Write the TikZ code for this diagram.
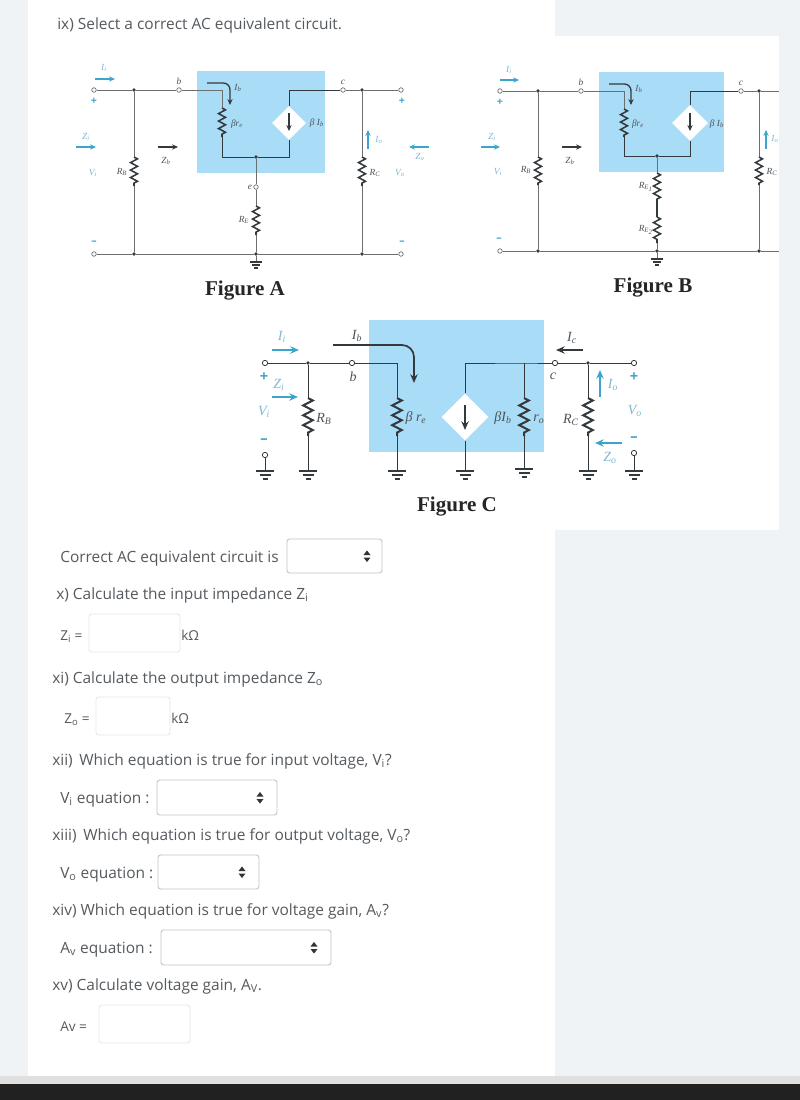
\documentclass[tikz,border=0pt]{standalone}
\usepackage{fontspec}
\setmainfont{Open Sans}
\newfontfamily\serifit[Ligatures=TeX]{Liberation Serif}
\usetikzlibrary{arrows.meta,decorations.pathmorphing,shapes.geometric}
\definecolor{pagebg}{HTML}{EFF3F5}
\definecolor{boxblue}{HTML}{A9DCF6}
\definecolor{wirec}{HTML}{6B6F70}
\definecolor{darkc}{HTML}{33393C}
\definecolor{cyanc}{HTML}{3BA5CC}
\definecolor{lblblue}{HTML}{7FB9D0}
\definecolor{lblgrey}{HTML}{4E5458}
\definecolor{textc}{HTML}{555A5F}
\definecolor{fieldc}{HTML}{E4E7E9}
\newcommand{\sbs}[1]{\textsubscript{#1}}
\tikzset{
 x=0.75pt,y=-0.75pt,
 wire/.style={draw=wirec,line width=0.75pt},
 wireC/.style={draw=darkc,line width=0.7pt},
 res/.style={draw=darkc,line width=1.15pt,decorate,decoration={zigzag,segment length=5.6pt,amplitude=2.6pt}},
 resC/.style={draw=darkc,line width=1.5pt,decorate,decoration={zigzag,segment length=7.4pt,amplitude=3.6pt}},
 term/.style={circle,draw=wirec,fill=white,line width=0.5pt,inner sep=0pt,minimum size=3.4pt},
 termC/.style={circle,draw=darkc,fill=white,line width=0.6pt,inner sep=0pt,minimum size=4pt},
 jn/.style={circle,fill=darkc,inner sep=0pt,minimum size=2.8pt},
 blueb/.style={fill=boxblue,draw=none},
 dia/.style={diamond,fill=white,draw=none,inner sep=0pt,minimum width=#1,minimum height=#1},
 lb/.style={font=\serifit\itshape\fontsize{7pt}{8pt}\selectfont,text=lblgrey,inner sep=0pt},
 lbb/.style={font=\serifit\itshape\fontsize{7pt}{8pt}\selectfont,text=lblblue,inner sep=0pt},
 lc/.style={font=\serifit\itshape\fontsize{10.5pt}{11pt}\selectfont,text=lblgrey,inner sep=0pt},
 lcb/.style={font=\serifit\itshape\fontsize{10.5pt}{11pt}\selectfont,text=lblblue,inner sep=0pt},
 pm/.style={font=\bfseries\fontsize{8pt}{9pt}\selectfont,text=cyanc,inner sep=0pt},
 pmC/.style={font=\bfseries\fontsize{11pt}{12pt}\selectfont,text=cyanc,inner sep=0pt},
 figlabel/.style={font=\serifit\bfseries\fontsize{15.8pt}{17pt}\selectfont,text=black!85,inner sep=0pt},
 txt/.style={font=\fontsize{11.6pt}{13pt}\selectfont,text=textc,anchor=base west,inner sep=0pt},
 smalltxt/.style={font=\fontsize{10.2pt}{12pt}\selectfont,text=textc,anchor=base west,inner sep=0pt},
 field/.style={draw=fieldc,fill=white,line width=0.6pt,rounded corners=2pt},
 selectf/.style={draw=fieldc!85!black,fill=white,line width=0.7pt,rounded corners=2pt},
 tri/.style={fill=black!80,draw=none},
 arrC/.style={draw=cyanc,line width=1.1pt,-{Stealth[length=4.5pt,width=4pt]}},
 arrD/.style={draw=darkc,line width=1pt,-{Stealth[length=4.5pt,width=4pt]}},
 arrCb/.style={draw=cyanc,line width=1.4pt,-{Stealth[length=6.5pt,width=5.5pt]}},
 arrDb/.style={draw=darkc,line width=1.3pt,-{Stealth[length=6.5pt,width=5.5pt]}},
 pics/gnd/.style={code={
   \draw[darkc,line width=0.9pt] (-6,0)--(6,0) (-4,3)--(4,3) (-1.8,6)--(1.8,6);}},
 pics/gndC/.style={code={
   \draw[darkc,line width=1.1pt] (-9,0)--(9,0) (-5.5,4)--(5.5,4) (-2.5,8)--(2.5,8);}},
}
% arrow between two named free ends
\newcommand{\curarw}[4]{\coordinate (#2s) at #3; \coordinate (#2e) at #4; \draw[#1] (#2s) -- (#2e);}
% select control
\newcommand{\selbox}[6]{\node[inner sep=0pt] (#1) at (#2,#3) {}; \draw[selectf] (#2,#3) rectangle (#4,#5);
 \fill[tri] (#6-3.5,{(#3+#5)/2-1}) -- (#6+3.5,{(#3+#5)/2-1}) -- (#6,{(#3+#5)/2-5.5}) -- cycle;
 \fill[tri] (#6-3.5,{(#3+#5)/2+1.5}) -- (#6+3.5,{(#3+#5)/2+1.5}) -- (#6,{(#3+#5)/2+6}) -- cycle;}
\begin{document}
\begin{tikzpicture}
\useasboundingbox (0,0) rectangle (800,1100);
% page
\fill[pagebg] (0,0) rectangle (800,1100);
\fill[white] (28,0) rectangle (555,1076);
\fill[white] (28,36) rectangle (779,530);
\fill[black!12] (0,1076) rectangle (800,1084);
\fill[black!87] (0,1084) rectangle (800,1100);

\node[txt] (q9) at (57,29) {ix) Select a correct AC equivalent circuit.};

%%%%%%%%%% Figure A
\fill[blueb] (197,71) rectangle (325,173);
\node[term] (Alt) at (94,90) {};
\node[jn] (Art) at (134,90) {};
\node[term] (Ab) at (179,90) {};
\coordinate (Aci) at (222,90);
\coordinate (Ari) at (222,108);
\coordinate (Aro) at (222,137);
\coordinate (Abl) at (222,157);
\node[jn] (Amid) at (256,157) {};
\coordinate (Abr) at (289,157);
\node[dia=34*0.75pt] (Asrc) at (289,123) {};
\coordinate (Act) at (289,90);
\node[term] (Ac) at (343,90) {};
\node[jn] (Arct) at (362,90) {};
\node[term] (Art2) at (401,90) {};
\node[term] (Ae) at (256,187) {};
\coordinate (AREa) at (256,206); \coordinate (AREb) at (256,235);
\coordinate (ARBa) at (134,157); \coordinate (ARBb) at (134,186);
\coordinate (ARCa) at (362,157); \coordinate (ARCb) at (362,186);
\node[term] (Alb) at (94,254) {};
\node[jn] (Arb) at (134,254) {};
\node[jn] (Agn) at (256,254) {};
\node[jn] (Arcb) at (362,254) {};
\node[term] (Arb2) at (401,254) {};
\coordinate (Agt) at (256,262);
\draw[wire] (Alt)--(Art)--(Ab)--(Aci)--(Ari);
\draw[wire,draw=darkc] (Aro)--(Abl)--(Amid)--(Abr)--(Asrc.south);
\draw[wire,draw=darkc] (Asrc.north)--(Act)--(Ac);
\draw[wire] (Ac)--(Arct)--(Art2);
\draw[wire] (Amid)--(Ae)--(AREa) (AREb)--(Agn)--(Agt);
\draw[wire] (Art)--(ARBa) (ARBb)--(Arb);
\draw[wire] (Arct)--(ARCa) (ARCb)--(Arcb);
\draw[wire] (Alb)--(Arb)--(Agn)--(Arcb)--(Arb2);
\draw[res] (ARBa)--(ARBb);
\draw[res] (ARCa)--(ARCb);
\draw[res] (AREa)--(AREb);
\draw[res] (Ari)--(Aro);
\pic at (Agt) {gnd};
\curarw{arrD}{Asa}{(289,113)}{(289,131)}
\curarw{arrC}{Aii}{(95,79)}{(115,79)}
\curarw{arrC}{Azi}{(76,147)}{(96,147)}
\curarw{arrD}{Azb}{(158,147)}{(178,147)}
\curarw{arrC}{Aio}{(368,149)}{(368,130)}
\curarw{arrC}{Azo}{(429,147)}{(409,147)}
\coordinate (Aiba) at (207,83); \coordinate (Aibc) at (230,83); \coordinate (Aibb) at (230,105);
\draw[arrD,rounded corners=5pt] (Aiba)--(Aibc)--(Aibb);
\node[lbb] (AIi) at (104,68) {I\sbs{i}};
\node[lbb] (AZi) at (86,137) {Z\sbs{i}};
\node[lbb] (AVi) at (93,173) {V\sbs{i}};
\node[pm] (App1) at (94,101) {+};
\node[pm] (Amm1) at (94,243) {–};
\node[pm] (App2) at (402,101) {+};
\node[pm] (Amm2) at (402,243) {–};
\node[lb] (Ablb) at (179,81) {b};
\node[lb] (Aclb) at (343,82) {c};
\node[lb] (Aelb) at (250,187) {e};
\node[lb] (AIb) at (238,88) {I\sbs{b}};
\node[lb] (Abre) at (237,124) {βr\sbs{e}};
\node[lb] (AbIb) at (317,123) {β I\sbs{b}};
\node[lb] (AZb) at (166,161) {Z\sbs{b}};
\node[lb] (ARB) at (122,172) {R\sbs{B}};
\node[lb] (ARC) at (375,173) {R\sbs{C}};
\node[lb] (ARE) at (244,220) {R\sbs{E}};
\node[lbb] (AIo) at (379,140) {I\sbs{o}};
\node[lbb] (AZo) at (420,157) {Z\sbs{o}};
\node[lbb] (AVo) at (400,173) {V\sbs{o}};
\node[figlabel] (figA) at (245,291) {Figure A};

%%%%%%%%%% Figure B
\fill[blueb] (599,72) rectangle (724,172);
\node[term] (Blt) at (500,91) {};
\node[jn] (Brt) at (538,91) {};
\node[term] (Bb) at (581,91) {};
\coordinate (Bci) at (624,91);
\coordinate (Bri) at (624,109);
\coordinate (Bro) at (624,137);
\coordinate (Bbl) at (624,156);
\node[jn] (Bmid) at (657,156) {};
\coordinate (Bbr) at (690,156);
\node[dia=36*0.75pt] (Bsrc) at (690,123) {};
\coordinate (Bct) at (690,91);
\node[term] (Bc) at (741,91) {};
\node[jn] (Brct) at (759,91) {};
\coordinate (Bend) at (779,91);
\coordinate (BE1a) at (657,173); \coordinate (BE1b) at (657,201);
\coordinate (BE2a) at (657,217); \coordinate (BE2b) at (657,243);
\coordinate (BRBa) at (538,157); \coordinate (BRBb) at (538,185);
\coordinate (BRCa) at (759,157); \coordinate (BRCb) at (759,185);
\node[term] (Blb) at (500,251) {};
\node[jn] (Brb) at (538,251) {};
\node[jn] (Bgn) at (657,251) {};
\node[jn] (Brcb) at (759,251) {};
\coordinate (Bendb) at (779,251);
\coordinate (Bgt) at (657,259);
\draw[wire] (Blt)--(Brt)--(Bb)--(Bci)--(Bri);
\draw[wire,draw=darkc] (Bro)--(Bbl)--(Bmid)--(Bbr)--(Bsrc.south);
\draw[wire,draw=darkc] (Bsrc.north)--(Bct)--(Bc);
\draw[wire] (Bc)--(Brct)--(Bend);
\draw[wire] (Bmid)--(BE1a);
\draw[wire,draw=darkc,line width=1pt] (BE1b)--(BE2a);
\draw[wire] (BE2b)--(Bgn)--(Bgt);
\draw[wire] (Brt)--(BRBa) (BRBb)--(Brb);
\draw[wire] (Brct)--(BRCa) (BRCb)--(Brcb);
\draw[wire] (Blb)--(Brb)--(Bgn)--(Brcb)--(Bendb);
\draw[res] (BRBa)--(BRBb);
\draw[res] (BRCa)--(BRCb);
\draw[res] (BE1a)--(BE1b);
\draw[res] (BE2a)--(BE2b);
\draw[res] (Bri)--(Bro);
\pic at (Bgt) {gnd};
\curarw{arrD}{Bsa}{(690,113)}{(690,131)}
\curarw{arrC}{Bii}{(500,80)}{(519,80)}
\curarw{arrC}{Bzi}{(481,147)}{(500,147)}
\curarw{arrD}{Bzb}{(562,147)}{(582,147)}
\curarw{arrC}{Bio}{(766,149)}{(766,130)}
\coordinate (Biba) at (609,84); \coordinate (Bibc) at (631,84); \coordinate (Bibb) at (631,105);
\draw[arrD,rounded corners=5pt] (Biba)--(Bibc)--(Bibb);
\node[lbb] (BIi) at (509,70) {I\sbs{i}};
\node[lbb] (BZi) at (492,137) {Z\sbs{i}};
\node[lbb] (BVi) at (498,172) {V\sbs{i}};
\node[pm] (Bpp) at (500,102) {+};
\node[pm] (Bmm) at (499,240) {–};
\node[lb] (Bblb) at (581,82) {b};
\node[lb] (Bclb) at (741,83) {c};
\node[lb] (BIb) at (639,89) {I\sbs{b}};
\node[lb] (Bbre) at (638,124) {βr\sbs{e}};
\node[lb] (BbIb) at (717,124) {β I\sbs{b}};
\node[lb] (BZb) at (570,161) {Z\sbs{b}};
\node[lb] (BRB) at (526,170) {R\sbs{B}};
\node[lb] (BRC) at (772,172) {R\sbs{C}};
\node[lb] (BE1) at (646,187) {R\sbs{E\textsubscript{1}}};
\node[lb] (BE2) at (646,230) {R\sbs{E\textsubscript{2}}};
\node[lbb] (BIo) at (775,139) {I\sbs{o}};
\node[figlabel] (figB) at (653,288) {Figure B};

%%%%%%%%%% Figure C
\fill[blueb] (369,320) rectangle (544,452);
\node[termC] (Clt) at (265,363) {};
\node[jn] (Crt) at (308,363) {};
\node[termC] (Cb) at (352,363) {};
\coordinate (Cci) at (397,363);
\coordinate (Cri) at (397,398);
\coordinate (Cro) at (397,436);
\coordinate (Cg1) at (397,471);
\node[dia=47*0.75pt] (Csrc) at (465,417) {};
\coordinate (Cct) at (465,363);
\coordinate (Cg2) at (465,471);
\coordinate (Cot) at (524,363);
\coordinate (Croa) at (524,398);
\coordinate (Crob) at (524,436);
\coordinate (Cg3) at (524,469);
\node[termC] (Cc) at (555,363) {};
\node[jn] (Crct) at (588,363) {};
\node[termC] (Crt2) at (634,363) {};
\coordinate (CRBa) at (308,398); \coordinate (CRBb) at (308,436);
\coordinate (CRCa) at (588,398); \coordinate (CRCb) at (588,436);
\node[termC] (Clb) at (265,455) {};
\node[termC] (Crb2) at (634,453) {};
\coordinate (Cg0) at (265,471);
\coordinate (CgB) at (308,471);
\coordinate (CgC) at (588,471);
\coordinate (Cg9) at (634,471);
\draw[wireC] (Clt)--(Crt)--(Cb)--(Cci)--(Cri);
\draw[wireC] (Cro)--(Cg1);
\draw[wireC] (Csrc.north)--(Cct)--(Cot)--(Cc)--(Crct)--(Crt2);
\draw[wireC] (Csrc.south)--(Cg2);
\draw[wireC] (Cot)--(Croa) (Crob)--(Cg3);
\draw[wireC] (Crt)--(CRBa) (CRBb)--(CgB);
\draw[wireC] (Crct)--(CRCa) (CRCb)--(CgC);
\draw[wireC] (Clb)--(Cg0);
\draw[wireC] (Crb2)--(Cg9);
\draw[resC] (CRBa)--(CRBb);
\draw[resC] (Cri)--(Cro);
\draw[resC] (Croa)--(Crob);
\draw[resC] (CRCa)--(CRCb);
\pic at (Cg0) {gndC}; \pic at (CgB) {gndC}; \pic at (Cg1) {gndC};
\pic at (Cg2) {gndC}; \pic at (Cg3) {gndC}; \pic at (CgC) {gndC}; \pic at (Cg9) {gndC};
\curarw{arrDb}{Csa}{(465,405)}{(465,430)}
\curarw{arrCb}{Cii}{(272,350)}{(299,350)}
\curarw{arrCb}{Czi}{(272,397)}{(298,397)}
\curarw{arrDb}{Cic}{(583,350)}{(556,350)}
\curarw{arrCb}{Cio}{(600,397)}{(600,370)}
\curarw{arrCb}{Czo}{(622,443)}{(595,443)}
\coordinate (Ciba) at (333,345); \coordinate (Cibc) at (414,345); \coordinate (Cibb) at (414,383);
\draw[arrDb,rounded corners=9pt] (Ciba)--(Cibc)--(Cibb);
\node[lcb] (CIi) at (282,337) {I\sbs{i}};
\node[lcb] (CZi) at (279,385) {Z\sbs{i}};
\node[lcb] (CVi) at (264,412) {V\sbs{i}};
\node[pmC] (Cpp1) at (264,377) {+};
\node[pmC] (Cmm1) at (264,441) {–};
\node[pmC] (Cpp2) at (634,377) {+};
\node[pmC] (Cmm2) at (634,439) {–};
\node[lc] (CIb) at (357,336) {I\sbs{b}};
\node[lc] (CIc) at (572,338) {I\sbs{c}};
\node[lc] (Cblb) at (353,377) {b};
\node[lc] (Cclb) at (553,376) {c};
\node[lc] (CRB) at (324,419) {R\sbs{B}};
\node[lc] (Cbre) at (416,418) {β r\sbs{e}};
\node[lc] (CbIb) at (503,418) {βI\sbs{b}};
\node[lc] (Cro2) at (539,419) {r\sbs{o}};
\node[lc] (CRC) at (571,420) {R\sbs{C}};
\node[lcb] (CIo) at (613,385) {I\sbs{o}};
\node[lcb] (CVo) at (635,411) {V\sbs{o}};
\node[lcb] (CZo) at (610,458) {Z\sbs{o}};
\node[figlabel] (figC) at (457,507) {Figure C};

%%%%%%%%%% Form
\node[txt] (t1) at (60,562) {Correct AC equivalent circuit is};
\selbox{s1}{287}{539}{382}{573}{367}
\node[txt] (t2) at (56,599) {x) Calculate the input impedance Z\sbs{i}};
\node[smalltxt] (t3) at (60,640) {Z\sbs{i} =};
\draw[field] (89,614) rectangle (180,652);
\node[smalltxt] (t4) at (181,640) {kΩ};
\node[txt] (t5) at (52,683) {xi) Calculate the output impedance Z\sbs{o}};
\node[smalltxt] (t6) at (64,723) {Z\sbs{o} =};
\draw[field] (96,697) rectangle (170,735);
\node[smalltxt] (t7) at (171,723) {kΩ};
\node[txt] (t8) at (52,765) {xii)\, Which equation is true for input voltage, V\sbs{i}?};
\node[txt] (t9) at (60,803) {V\sbs{i} equation :};
\selbox{s2}{157}{780}{277}{815}{260}
\node[txt] (t10) at (52,840) {xiii)\, Which equation is true for output voltage, V\sbs{o}?};
\node[txt] (t11) at (60,878) {V\sbs{o} equation :};
\selbox{s3}{158}{855}{259}{889}{242}
\node[txt] (t12) at (52,915) {xiv) Which equation is true for voltage gain, A\sbs{v}?};
\node[txt] (t13) at (60,953) {A\sbs{v} equation :};
\selbox{s4}{161}{930}{331}{965}{314}
\node[txt] (t14) at (52,990) {xv) Calculate voltage gain, A\sbs{V}.};
\node[smalltxt] (t15) at (60,1031) {Av =};
\draw[field] (99,1005) rectangle (190,1043);
\end{tikzpicture}
\end{document}
